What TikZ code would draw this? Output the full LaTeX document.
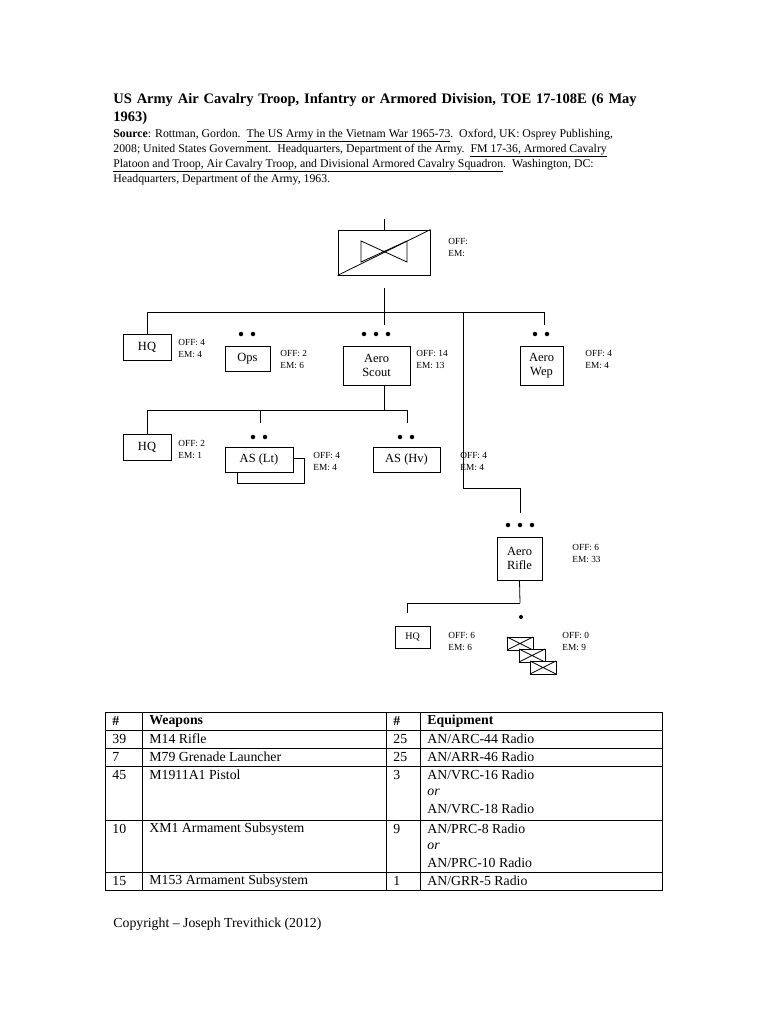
\documentclass[tikz,border=0pt]{standalone}
\usepackage{fontspec}
\setmainfont{Liberation Serif}
\begin{document}
\begin{tikzpicture}[x=1pt,y=-1pt,line width=0.8pt,
 box/.style={draw,fill=white,inner sep=0pt,font=\fontsize{12.5}{14}\selectfont,align=center},
 lab/.style={anchor=north west,inner sep=0pt,font=\fontsize{9.3}{12}\selectfont,align=left},
 dot/.style={circle,fill=black,inner sep=0pt,minimum size=4.5pt},
 td/.style={anchor=west,inner sep=0pt,font=\fontsize{13.8}{15}\selectfont}]
\useasboundingbox (0,0) rectangle (768,1024);
% header text
\node[anchor=north west,inner sep=0pt,font=\fontsize{14.5}{18}\selectfont\bfseries,align=left,text width=560pt] (title) at (113,93) {US Army Air Cavalry Troop, Infantry or Armored Division, TOE 17-108E (6 May 1963)};
\node[anchor=north west,inner sep=0pt,font=\fontsize{11.8}{15}\selectfont,align=left] (src) at (113,129) {\textbf{Source}: Rottman, Gordon.\ \ \underline{The US Army in the Vietnam War 1965-73}.\ \ Oxford, UK: Osprey Publishing,\\2008; United States Government.\ \ Headquarters, Department of the Army.\ \ \underline{FM 17-36, Armored Cavalry}\\\underline{Platoon and Troop, Air Cavalry Troop, and Divisional Armored Cavalry Squadron}.\ \ Washington, DC:\\Headquarters, Department of the Army, 1963.};
% top unit
\node[box,minimum width=92pt,minimum height=45pt] (top) at (384,252.5) {};
\draw (top.south west) -- (top.north east);
\draw (361,241) -- (361,262) -- (407,241) -- (407,262) -- cycle;
\coordinate (topin) at (384,219);
\draw (topin) -- (top.north);
\node[lab] (toplab) at (448,238) {OFF:\\EM:};
\coordinate (b1) at (384,288);
\coordinate (bus1L) at (147,312);
\coordinate (bus1R) at (544,312);
\draw (b1) -- (384,312);
\draw (bus1L) -- (bus1R);
% level 2
\node[box,minimum width=48pt,minimum height=26pt] (hq1) at (147,347) {HQ};
\node[lab] (hq1l) at (178,339) {OFF: 4\\EM: 4};
\draw (bus1L) -- (hq1.north);
\node[box,minimum width=45pt,minimum height=25pt] (ops) at (247.5,358.5) {Ops};
\node[dot] at (241,334) {}; \node[dot] at (253,334) {};
\node[lab] (opsl) at (280,350) {OFF: 2\\EM: 6};
\node[box,minimum width=67pt,minimum height=39pt] (scout) at (376.5,365.5) {Aero\\Scout};
\node[dot] at (364,334) {}; \node[dot] at (376,334) {}; \node[dot] at (388,334) {};
\node[lab] (scl) at (416,350) {OFF: 14\\EM: 13};
\node[box,minimum width=43pt,minimum height=39pt] (wep) at (541.5,365.5) {Aero\\Wep};
\node[dot] at (535,334) {}; \node[dot] at (547,334) {};
\node[lab] (wepl) at (585,350) {OFF: 4\\EM: 4};
\draw (544,312) -- (544,325);
\draw (384,312) -- (384,325);
% level 3
\coordinate (bus2L) at (147,410);
\coordinate (bus2R) at (407,410);
\draw (scout.south) ++(7.5,0) -- (384,410);
\draw (bus2L) -- (bus2R);
\node[box,minimum width=48pt,minimum height=26pt] (hq2) at (147,447) {HQ};
\node[lab] (hq2l) at (178,440) {OFF: 2\\EM: 1};
\draw (bus2L) -- (hq2.north);
\draw (260,410) -- (260,423);
\draw (bus2R) -- (407,423);
\draw (237,458) rectangle (304,483);
\node[box,minimum width=68pt,minimum height=25pt] (aslt) at (259,459.5) {AS (Lt)};
\node[dot] at (253,437) {}; \node[dot] at (265,437) {};
\node[lab] (asltl) at (313,452) {OFF: 4\\EM: 4};
\node[box,minimum width=67pt,minimum height=25pt] (ashv) at (406.5,459.5) {AS (Hv)};
\node[dot] at (400,437) {}; \node[dot] at (412,437) {};
\node[lab] (ashvl) at (460,452) {OFF: 4\\EM: 4};
% aero rifle
\node[box,minimum width=45pt,minimum height=43pt] (rifle) at (519.5,558.5) {Aero\\Rifle};
\node[dot] at (508,525) {}; \node[dot] at (520,525) {}; \node[dot] at (532,525) {};
\node[lab] (rifl) at (572,544) {OFF: 6\\EM: 33};
\draw (463,312) -- (463,488) -- (520,488) -- (520,513);
\coordinate (bus3L) at (407,603);
\draw (rifle.south) -- (520,603);
\draw (bus3L) -- (520,603);
\node[box,minimum width=35pt,minimum height=22pt,font=\fontsize{10}{11}\selectfont] (hq3) at (412.5,637) {HQ};
\draw (bus3L) -- (407,613);
\node[lab] (hq3l) at (448,632) {OFF: 6\\EM: 6};
\node[dot,minimum size=4pt] at (521,617) {};
\foreach \x/\y in {507/637,519/649,530/661}{
 \draw[fill=white] (\x,\y) rectangle (\x+26,\y+13);
 \draw (\x,\y) -- (\x+26,\y+13) (\x,\y+13) -- (\x+26,\y);}
\node[lab] (pll) at (562,632) {OFF: 0\\EM: 9};
% table
\draw (105,712) rectangle (662,890);
\foreach \y in {730,748,766,820,872} \draw (105,\y) -- (662,\y);
\foreach \x in {142,386,420} \draw (\x,712) -- (\x,890);
\node[td,font=\fontsize{13.8}{15}\selectfont\bfseries] at (112,721) {\#};
\node[td,font=\fontsize{13.8}{15}\selectfont\bfseries] at (149,721) {Weapons};
\node[td,font=\fontsize{13.8}{15}\selectfont\bfseries] at (393,721) {\#};
\node[td,font=\fontsize{13.8}{15}\selectfont\bfseries] at (427,721) {Equipment};
\node[td] at (112,739) {39}; \node[td] at (149,739) {M14 Rifle}; \node[td] at (393,739) {25}; \node[td] at (427,739) {AN/ARC-44 Radio};
\node[td] at (112,757) {7}; \node[td] at (149,757) {M79 Grenade Launcher}; \node[td] at (393,757) {25}; \node[td] at (427,757) {AN/ARR-46 Radio};
\node[td] at (112,775) {45}; \node[td] at (149,775) {M1911A1 Pistol}; \node[td] at (393,775) {3}; \node[td] at (427,775) {AN/VRC-16 Radio};
\node[td] at (427,792) {\itshape or}; \node[td] at (427,809) {AN/VRC-18 Radio};
\node[td] at (112,829) {10}; \node[td] at (149,829) {XM1 Armament Subsystem}; \node[td] at (393,829) {9}; \node[td] at (427,829) {AN/PRC-8 Radio};
\node[td] at (427,846) {\itshape or}; \node[td] at (427,863) {AN/PRC-10 Radio};
\node[td] at (112,881) {15}; \node[td] at (149,881) {M153 Armament Subsystem}; \node[td] at (393,881) {1}; \node[td] at (427,881) {AN/GRR-5 Radio};
\node[td] at (113,924) {Copyright -- Joseph Trevithick (2012)};
\end{tikzpicture}
\end{document}
